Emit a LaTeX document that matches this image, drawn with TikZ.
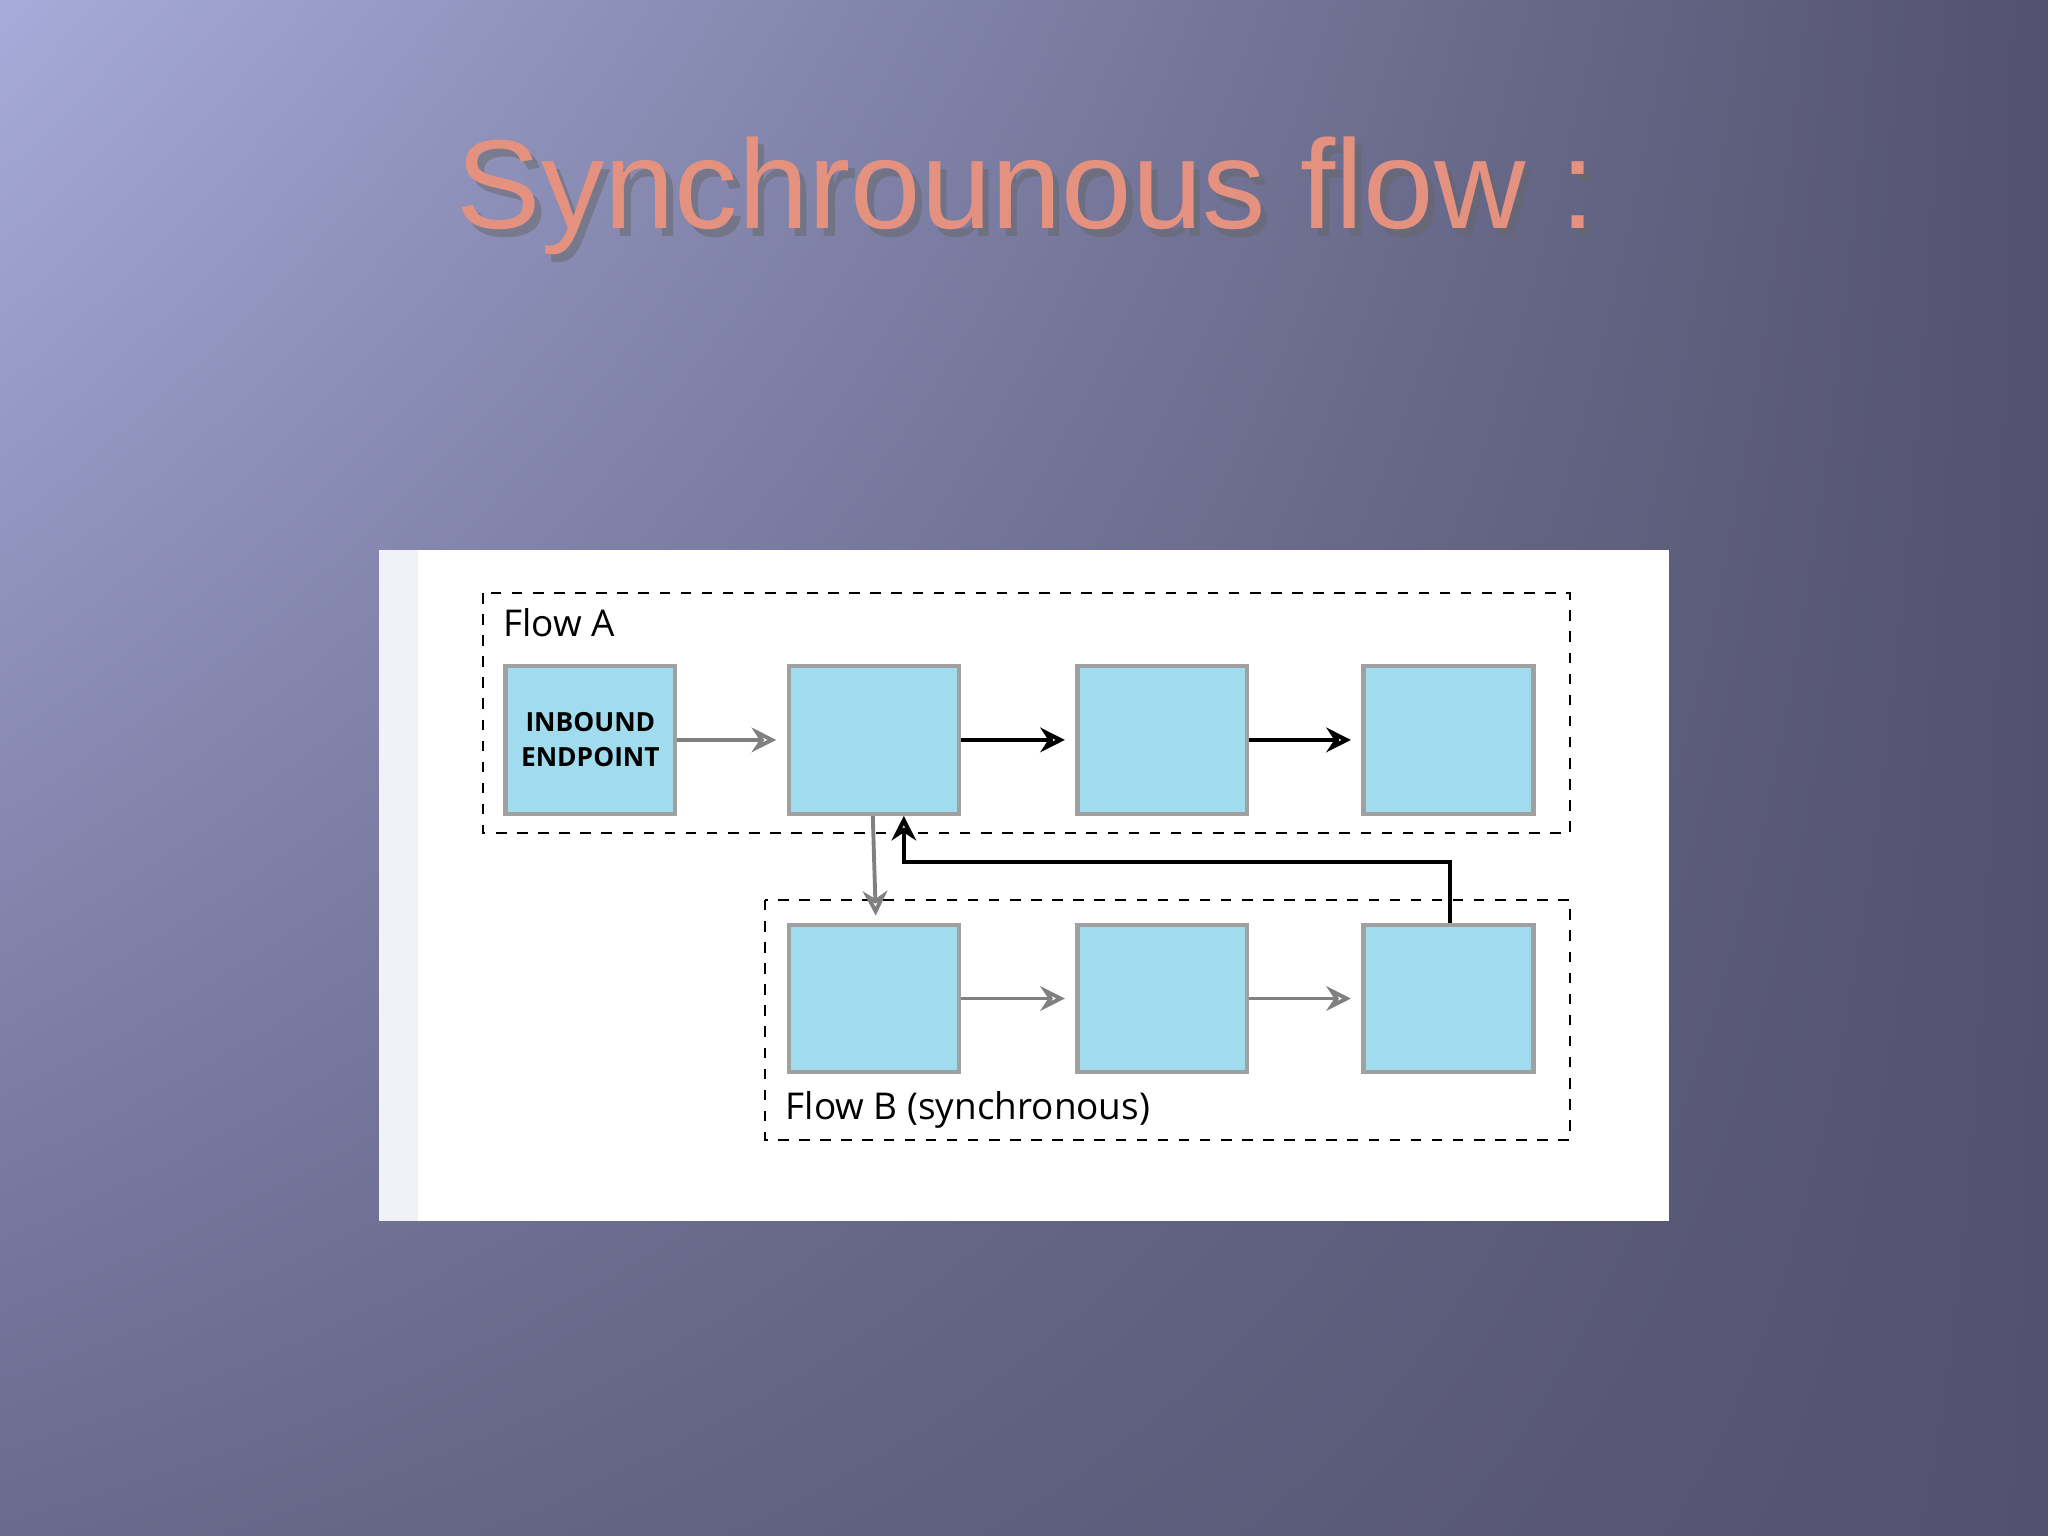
\documentclass[tikz,border=0pt]{standalone}
\usepackage{fontspec}
\setmainfont{Open Sans}
\newfontfamily\titlefont{Liberation Sans}
\usetikzlibrary{arrows.meta,shadings}
\definecolor{boxfill}{HTML}{A0DCEE}
\definecolor{boxline}{HTML}{A0A0A0}
\definecolor{titlec}{HTML}{E5917F}
\definecolor{bgA}{HTML}{A7ABD9}
\definecolor{bgB}{HTML}{6A6A8E}
\definecolor{bgC}{HTML}{52526E}
\definecolor{strip}{HTML}{F0F2F7}
\begin{document}
\begin{tikzpicture}[x=0.013061cm,y=-0.013061cm,
  blk/.style={draw=boxline,line width=1.2pt,fill=boxfill},
  flowbox/.style={draw=black,dashed,line width=0.6pt},
  garrow/.style={draw=gray,line width=1.1pt,-{Stealth[length=7pt,width=7pt,open]}},
  barrow/.style={draw=black,line width=1.3pt,-{Stealth[length=7pt,width=7pt,open]}}]
\useasboundingbox (0,0) rectangle (1568,1176);
\shade[upper left=bgA, upper right=bgC, lower left=bgB, lower right=bgC] (0,0) rectangle (1568,1176);
% title
\node[text=black!60,opacity=0.5,font=\titlefont\fontsize{36}{40}\selectfont] at (791,156) {Synchrounous flow :};
\node[text=titlec,font=\titlefont\fontsize{36}{40}\selectfont] (title) at (786,150) {Synchrounous flow :};
% panel
\fill[white] (290,421) rectangle (1278,935);
\fill[strip] (290,421) rectangle (320,935);
% flow boxes
\draw[flowbox] (370,454) rectangle (1202,638);
\node[anchor=west,font=\fontsize{10.5}{12}\selectfont] (fa) at (376,477) {Flow A};
\draw[flowbox] (586,689) rectangle (1202,873);
\node[anchor=west,font=\fontsize{10.5}{12}\selectfont] (fb) at (592,850) {Flow B (synchronous)};
% blocks
\node[blk,minimum width=1.698cm,minimum height=1.476cm,align=center,font=\bfseries\fontsize{7.5}{10}\selectfont] (a1) at (452,566.5) {INBOUND\\ENDPOINT};
\foreach \n/\x in {a2/669,a3/890,a4/1109}
  \node[blk,minimum width=1.698cm,minimum height=1.476cm] (\n) at (\x,566.5) {};
\foreach \n/\x in {b1/669,b2/890,b3/1109}
  \node[blk,minimum width=1.698cm,minimum height=1.476cm] (\n) at (\x,764.5) {};
% arrows
\draw[garrow] (a1.east) -- ([xshift=-3pt]a2.west);
\draw[barrow] (a2.east) -- ([xshift=-3pt]a3.west);
\draw[barrow] (a3.east) -- ([xshift=-3pt]a4.west);
\draw[garrow] ([xshift=-0.01cm]a2.south) -- ([xshift=0.02cm,yshift=2pt]b1.north);
\draw[garrow] (b1.east) -- ([xshift=-3pt]b2.west);
\draw[garrow] (b2.east) -- ([xshift=-3pt]b3.west);
\coordinate (c1) at (1110,660);
\coordinate (c2) at (692,660);
\draw[barrow] (b3.north -| c1) -- (c1) -- (c2) -- (c2 |- a2.south);
\end{tikzpicture}
\end{document}
